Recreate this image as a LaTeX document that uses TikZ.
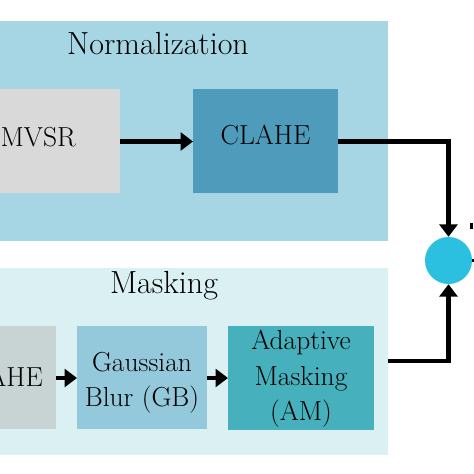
\documentclass[tikz,border=0pt]{standalone}
\usetikzlibrary{arrows.meta}
\definecolor{normbg}{RGB}{166,214,228}
\definecolor{maskbg}{RGB}{218,240,243}
\definecolor{mvsrc}{RGB}{217,217,217}
\definecolor{clahec}{RGB}{79,155,187}
\definecolor{clahe2c}{RGB}{200,212,212}
\definecolor{gbc}{RGB}{147,201,218}
\definecolor{amc}{RGB}{70,177,189}
\definecolor{sumc}{RGB}{44,192,224}
\tikzset{
  box/.style={draw=none, inner sep=0pt, anchor=north west},
  title/.style={font=\fontsize{32}{37}\selectfont, inner sep=0pt},
  lbl/.style={font=\fontsize{27.5}{35.5}\selectfont, inner sep=0pt, align=center},
  conn/.style={line width=4.5pt, -{Triangle[length=12.5pt,width=18pt]}},
  link/.style={line width=4.5pt}
}
\begin{document}
\begin{tikzpicture}[x=1pt,y=-1pt]
\useasboundingbox (0,0) rectangle (474,474);
\clip (0,0) rectangle (474,474);
\fill[white] (0,0) rectangle (474,474);
% panels
\node[box, fill=normbg, minimum width=388pt, minimum height=220pt] (norm) at (0,21) {};
\node[box, fill=maskbg, minimum width=388pt, minimum height=187pt] (mask) at (0,268) {};
\node[title, anchor=base] (normT) at (158,54) {Normalization};
\node[title, anchor=base] (maskT) at (164,293) {Masking};
% normalization boxes
\node[box, fill=mvsrc, minimum width=140pt, minimum height=104pt] (mvsr) at (-20,89) {};
\node[box, fill=clahec, minimum width=145pt, minimum height=104pt] (clahe) at (193,89) {};
\node[lbl, anchor=base east] (mvsrT) at (76,146.5) {MVSR};
\node[lbl, anchor=base] (claheT) at (265.5,144) {CLAHE};
% masking boxes
\node[box, fill=clahe2c, minimum width=76pt, minimum height=103pt] (clahe2) at (-20,326) {};
\node[box, fill=gbc, minimum width=130pt, minimum height=103pt] (gb) at (77,326) {};
\node[box, fill=amc, minimum width=146pt, minimum height=104pt] (am) at (228,326) {};
\node[lbl, anchor=base east] (clahe2T) at (43,386.5) {CLAHE};
\node[lbl] (gbT) at (142,383) {Gaussian\\Blur (GB)};
\node[lbl] (amT) at (301,379) {Adaptive\\Masking\\(AM)};
% summing node
\node[circle, fill=sumc, minimum size=47pt, inner sep=0pt] (sum) at (448.5,260.5) {};
% connectors
\draw[conn] (mvsr.east |- 0,141.5) -- (clahe.west |- 0,141.5);
\draw[conn] (clahe2.east |- 0,378) -- (gb.west |- 0,378);
\draw[conn] (gb.east |- 0,378) -- (am.west |- 0,378);
\coordinate (c1) at (clahe.east |- 0,141.5);
\coordinate (c2) at (mask.east |- 0,361);
\draw[conn] (c1) -| (sum.north);
\draw[conn] (c2) -| (sum.south);
\coordinate (out) at (480,260.5);
\draw[line width=2.5pt] (sum.east) -- (out);
\coordinate (m1) at (471,223);
\coordinate (m2) at (471,229);
\draw[line width=3pt] (m1) -- (m2);
\end{tikzpicture}
\end{document}
